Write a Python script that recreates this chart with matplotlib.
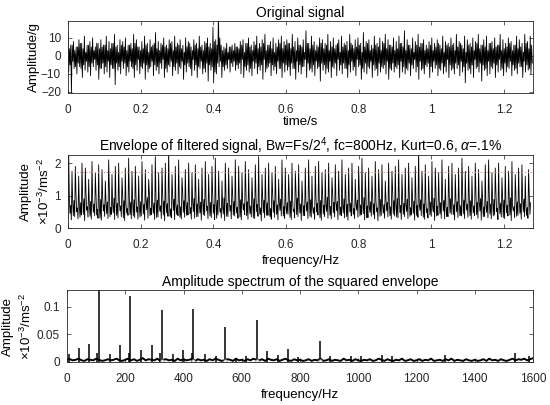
import numpy as np
import matplotlib
matplotlib.use('Agg')
import matplotlib.pyplot as plt

plt.rcParams['font.family'] = ['Liberation Sans', 'DejaVu Sans']
plt.rcParams['font.size'] = 9.5
plt.rcParams['mathtext.fontset'] = 'custom'
plt.rcParams['mathtext.rm'] = 'Liberation Sans'
plt.rcParams['mathtext.it'] = 'Liberation Sans:italic'

# original signal: large and small excursions (g)
sig_hi = [13, 6, 8, 5, 9, 7, 11, 6, 8, 10, 5, 7, 9, 6, 11, 8, 7, 12, 6, 9,
          8, 10, 6, 7, 12, 9, 5, 8, 11, 7, 9, 6, 13, 8, 7, 10, 6, 9, 8, 11,
          7, 9, 6, 10, 8, 5, 9, 7, 11, 6, 8, 10, 7, 16, 9, 24, 6, 5, 7, 5,
          6, 7, 5, 8, 9, 7, 10, 6, 8, 11, 7, 9, 12, 6, 8, 10, 7, 9, 11, 8,
          9, 7, 12, 8, 10, 6, 9, 14, 7, 11, 8, 6, 10, 9, 7, 12, 8, 10, 6, 9,
          11, 7, 8, 12, 6, 9, 10, 7, 13, 8, 9, 6, 11, 7, 10, 8, 12, 9, 6, 10,
          8, 11, 7, 14, 9, 6, 10, 8, 12, 7, 9, 6, 8, 10, 7, 9, 6, 11, 8, 7,
          10, 7, 12, 8, 6, 11, 9, 7, 10, 8, 12, 6, 9, 11, 7, 8, 10, 6, 12, 9,
          7, 10, 8, 6, 11, 9, 7, 12, 8, 11]
sig_lo = [-9, -21, -7, -10, -6, -12, -8, -9, -11, -6, -8, -13, -7, -10, -9, -12, -7, -16, -8, -10,
          -7, -11, -9, -6, -12, -8, -10, -7, -13, -9, -6, -11, -8, -10, -7, -12, -9, -6, -11, -8,
          -10, -7, -13, -9, -6, -11, -8, -12, -7, -10, -9, -14, -8, -15, -10, -6, -12, -8, -7, -9,
          -6, -8, -7, -10, -12, -8, -9, -11, -7, -10, -8, -13, -9, -6, -11, -8, -10, -7, -12, -9,
          -8, -11, -7, -13, -9, -10, -6, -12, -8, -9, -11, -7, -14, -8, -10, -9, -12, -7, -11, -8,
          -10, -7, -12, -9, -8, -11, -6, -13, -9, -10, -7, -12, -8, -11, -9, -7, -10, -13, -8, -9,
          -7, -12, -9, -10, -8, -11, -7, -9, -13, -8, -10, -6, -12, -9, -7, -11, -8, -10, -9, -12,
          -8, -10, -7, -11, -9, -15, -8, -10, -12, -7, -9, -14, -8, -11, -10, -7, -12, -9, -8, -11,
          -9, -7, -11, -8, -10, -6, -12, -9, -8, -10]
sig_hi2 = [4, 6, 3, 5, 7, 4, 2, 6, 5, 3, 7, 4, 5, 6, 3, 4, 7, 5, 2, 6,
           5, 3, 6, 4, 7, 5, 3, 4, 6, 2, 5, 7, 4, 3, 6, 5, 4, 7, 3, 5,
           6, 4, 2, 5, 7, 3, 6, 4, 5, 3, 7, 5, 4, 8, 6, 10, 3, 4, 2, 5,
           3, 5, 4, 6, 2, 7, 5, 3, 6, 4, 5, 7, 3, 6, 4, 2, 5, 7, 4, 6,
           7, 4, 5, 3, 6, 5, 2, 7, 4, 6, 3, 5, 7, 4, 6, 3, 5, 4, 7, 2,
           5, 6, 3, 7, 4, 5, 6, 2, 5, 7, 3, 4, 6, 5, 3, 7, 4, 6, 5, 3,
           4, 7, 5, 3, 6, 4, 2, 6, 5, 7, 3, 4, 6, 3, 5, 7, 4, 2, 6, 5,
           6, 3, 5, 7, 4, 2, 6, 5, 3, 7, 4, 6, 5, 3, 7, 4, 5, 6, 3, 4,
           5, 7, 3, 6, 4, 5, 2, 7, 4, 6]
sig_lo2 = [-5, -3, -6, -4, -7, -5, -3, -6, -4, -2, -5, -7, -4, -6, -3, -5, -7, -4, -6, -3,
           -4, -6, -3, -7, -5, -2, -6, -4, -5, -7, -3, -5, -6, -4, -2, -7, -5, -3, -6, -4,
           -6, -3, -5, -4, -7, -2, -5, -6, -3, -7, -4, -5, -6, -9, -4, -3, -6, -5, -2, -4,
           -3, -5, -4, -2, -6, -5, -7, -3, -4, -6, -5, -2, -7, -4, -5, -6, -3, -7, -4, -5,
           -6, -4, -7, -3, -5, -6, -2, -4, -7, -5, -3, -6, -4, -5, -7, -3, -6, -4, -2, -5,
           -4, -7, -5, -3, -6, -2, -5, -7, -4, -6, -3, -5, -7, -4, -6, -5, -3, -7, -4, -6,
           -5, -3, -6, -7, -4, -5, -2, -6, -3, -7, -5, -4, -6, -3, -5, -7, -4, -6, -2, -5,
           -7, -4, -5, -3, -6, -4, -7, -5, -2, -6, -4, -5, -7, -3, -6, -4, -5, -2, -7, -4,
           -6, -3, -5, -7, -4, -6, -3, -5, -7, -4]

# envelope: one impulse per fault period, five samples each (x0.01)
env_peak = [240, 175, 190, 160, 200, 185, 150, 205, 170, 195, 180, 145, 210, 165, 190, 200, 155, 185, 215, 175,
            190, 160, 205, 180, 150, 195, 220, 170, 185, 200, 245, 165, 190, 210, 155, 180, 200, 170, 195, 150,
            185, 205, 165, 190, 215, 175, 145, 200, 185, 160, 210, 190, 170, 205, 180, 155, 195, 220, 165, 185,
            200, 170, 190, 150, 210, 185, 165, 200, 175, 195, 145, 185, 210, 160, 190, 205, 170, 180, 200, 155,
            195, 175, 210, 165, 185, 200, 150, 190, 215, 170, 185, 160, 205, 180, 195, 145, 200, 175, 190, 210,
            165, 185, 200, 155, 190, 245, 175, 195, 160, 205, 185, 170, 210, 150, 190, 200, 165, 185, 215, 175,
            190, 160, 200, 180, 145, 195, 210, 170, 185, 200, 155, 190, 175, 205, 165, 185, 195, 160, 180]
env_low = [30, 25, 35, 28, 40, 22, 33, 27, 38, 30, 24, 36, 29, 42, 26, 31, 35, 23, 39, 28,
           32, 27, 37, 24, 30, 41, 26, 34, 29, 22, 36, 31, 25, 38, 28, 33, 40, 27, 30, 35,
           24, 38, 29, 32, 26, 40, 31, 23, 35, 28, 37, 30, 25, 41, 27, 34, 29, 36, 22, 32,
           39, 27, 33, 25, 37, 30, 42, 26, 31, 35, 23, 38, 29, 33, 27, 40, 24, 36, 30, 28,
           34, 26, 38, 31, 24, 37, 29, 33, 41, 25, 32, 36, 28, 22, 39, 30, 34, 27, 37, 31,
           26, 35, 29, 40, 24, 33, 38, 27, 31, 36, 23, 39, 30, 28, 35, 42, 25, 32, 37, 29,
           33, 27, 38, 30, 24, 36, 31, 28, 40, 26, 34, 29, 37, 23, 32, 39, 27, 35, 30]
env_mid = [95, 80, 105, 70, 90, 110, 75, 85, 100, 65, 95, 80, 115, 70, 90, 85, 105, 75, 95, 80,
           100, 70, 90, 85, 110, 75, 95, 65, 105, 80, 90, 100, 70, 85, 115, 75, 95, 80, 105, 70,
           85, 95, 75, 110, 80, 90, 65, 100, 85, 105, 70, 95, 80, 110, 75, 90, 100, 65, 95, 85,
           75, 105, 90, 80, 100, 70, 95, 85, 115, 75, 90, 80, 105, 65, 95, 85, 100, 70, 90, 110,
           80, 95, 70, 105, 85, 90, 75, 110, 80, 100, 65, 95, 85, 105, 70, 90, 80, 115, 75, 95,
           90, 70, 100, 85, 95, 75, 110, 80, 90, 65, 105, 85, 95, 70, 100, 80, 90, 75, 110, 85,
           95, 75, 105, 80, 90, 70, 100, 85, 110, 75, 95, 80, 90, 65, 105, 85, 95, 70, 100]
env_low2 = [45, 38, 50, 33, 42, 55, 36, 48, 40, 30, 52, 44, 35, 47, 39, 53, 31, 46, 41, 37,
            49, 34, 43, 56, 38, 45, 32, 51, 40, 47, 36, 54, 42, 33, 48, 39, 44, 50, 35, 46,
            41, 53, 37, 45, 30, 49, 43, 36, 52, 40, 46, 34, 55, 38, 44, 31, 50, 42, 47, 39,
            35, 48, 42, 54, 37, 44, 33, 50, 41, 46, 38, 52, 36, 45, 49, 32, 43, 51, 39, 47,
            53, 40, 46, 35, 49, 42, 55, 37, 44, 31, 48, 41, 50, 36, 45, 53, 38, 43, 34, 47,
            42, 51, 36, 45, 39, 54, 33, 47, 40, 49, 37, 44, 52, 35, 46, 41, 50, 38, 43, 55,
            38, 46, 41, 52, 35, 48, 43, 37, 50, 44, 32, 47, 40, 53, 36, 45, 49, 39, 42]
env_mid2 = [70, 85, 62, 78, 90, 66, 82, 74, 58, 88, 72, 80, 64, 92, 76, 68, 84, 60, 79, 87,
            65, 81, 73, 94, 61, 77, 86, 69, 83, 75, 59, 89, 71, 66, 84, 78, 63, 91, 74, 80,
            88, 67, 79, 72, 85, 60, 93, 76, 70, 82, 64, 87, 75, 81, 68, 90, 73, 62, 86, 77,
            61, 84, 71, 89, 66, 78, 83, 58, 92, 74, 69, 80, 87, 63, 76, 85, 70, 95, 67, 79,
            82, 65, 90, 73, 77, 60, 86, 71, 94, 68, 81, 75, 62, 88, 72, 79, 66, 84, 91, 70,
            76, 89, 63, 83, 70, 87, 74, 59, 80, 92, 67, 78, 85, 64, 90, 72, 81, 69, 86, 73,
            84, 68, 79, 91, 65, 82, 74, 88, 61, 77, 86, 70, 93, 66, 80, 75, 89, 63, 78]
env_threshold = 1.72
fault_freq = 109.0

# squared envelope spectrum: noise floor every 10 Hz (x0.001) and spectral lines
floor_step = 10
spec_floor = [5, 5, 3, 4, 6, 3, 2, 5, 4, 3, 6, 4, 2, 3, 5, 3, 4, 6, 3, 2,
              4, 6, 3, 5, 2, 4, 7, 3, 5, 4, 3, 6, 2, 4, 5, 3, 4, 2, 6, 3,
              5, 3, 4, 6, 2, 5, 3, 4, 2, 5, 3, 6, 4, 2, 3, 5, 4, 2, 6, 3,
              4, 2, 5, 3, 6, 4, 3, 5, 2, 6, 4, 3, 5, 2, 4, 6, 3, 2, 5, 3,
              4, 2, 3, 5, 2, 4, 3, 6, 2, 3, 5, 2, 4, 3, 2, 6, 3, 4, 2, 5,
              3, 2, 4, 3, 5, 2, 3, 6, 4, 2, 5, 3, 2, 4, 3, 6, 2, 3, 5, 2,
              3, 5, 2, 4, 3, 6, 2, 3, 4, 2, 5, 3, 6, 2, 4, 3, 2, 5, 3, 2,
              4, 2, 3, 5, 2, 6, 3, 4, 2, 5, 3, 2, 4, 6, 3, 5, 4, 6, 3, 5, 7]
line_f = [8.5, 40, 77, 103, 108.5, 146, 183, 212, 217, 255, 291, 320, 325.5, 363, 399, 429, 434,
          473, 511, 542.5, 580, 616, 651, 686, 724, 759.5, 792, 868, 903, 975, 1009,
          1081, 1117, 1297, 1539, 1585]
line_a = [0.015, 0.025, 0.033, 0.017, 0.14, 0.015, 0.030, 0.017, 0.12, 0.021, 0.030, 0.016, 0.094,
          0.014, 0.022, 0.016, 0.096, 0.015, 0.010, 0.064, 0.008, 0.011, 0.076, 0.019, 0.013,
          0.023, 0.009, 0.038, 0.010, 0.010, 0.010, 0.012, 0.010, 0.012, 0.016, 0.010]
harm_f = [325.5, 434, 542.5, 651, 868]

time_ticks = [0, 0.2, 0.4, 0.6, 0.8, 1.0, 1.2]
time_labels = ['0', '0.2', '0.4', '0.6', '0.8', '1', '1.2']
freq_ticks = [0, 200, 400, 600, 800, 1000, 1200, 1400, 1600]


def style(ax):
    ax.tick_params(direction='in', top=True, right=True, length=3, width=0.5,
                   colors='#262626', labelsize=8.5)
    ax.tick_params(axis='x', pad=8)
    ax.tick_params(axis='y', pad=5)
    for s in ax.spines.values():
        s.set_linewidth(0.6)
        s.set_color('#262626')


fig = plt.figure(figsize=(5.5, 4.05), dpi=100)
amp_label = 'Amplitude\n' + r'$\times$10$^{-3}$/ms$^{-2}$'

# original signal
ax1 = fig.add_axes([68/550, 1-93/405, 465/550, 72/405])
sig = np.array([sig_hi, sig_lo, sig_hi2, sig_lo2]).T.ravel()
t = np.arange(len(sig)) * 1.28 / len(sig)
ax1.plot(t, sig, color='k', lw=0.6)
ax1.set_xlim(0, 1.28)
ax1.set_ylim(-20.6, 19.4)
ax1.set_xticks(time_ticks, time_labels)
ax1.set_yticks([-20, -10, 0, 10])
ax1.set_title('Original signal', fontsize=10, pad=3)
ax1.set_xlabel('time/s', labelpad=0)
ax1.set_ylabel('Amplitude/g', labelpad=1)
style(ax1)

# envelope
ax2 = fig.add_axes([68/550, 1-228/405, 465/550, 73/405])
env = np.array([env_low, env_peak, env_mid, env_low2, env_mid2]).T.ravel() / 100.0
te = np.arange(len(env)) / (5 * fault_freq)
ax2.plot(te, env, color='k', lw=0.6)
ax2.axhline(env_threshold, color='#d98080', ls=':', lw=0.8)
ax2.set_xlim(0, 1.28)
ax2.set_ylim(0, 2.25)
ax2.set_xticks(time_ticks, time_labels)
ax2.set_yticks([0, 1, 2])
ax2.set_title(r'Envelope of filtered signal, Bw=Fs/2$^4$, fc=800Hz, Kurt=0.6, $\alpha$=.1%',
              fontsize=10, pad=3)
ax2.set_xlabel('frequency/Hz', labelpad=3)
ax2.set_ylabel(amp_label, labelpad=2, linespacing=1.4)
style(ax2)

# spectrum of squared envelope
ax3 = fig.add_axes([67/550, 1-362/405, 466/550, 72/405])
ff = np.arange(len(spec_floor)) * floor_step
ax3.plot(ff, np.array(spec_floor) / 1000.0, color='k', lw=1.4)
ax3.vlines(line_f, 0, line_a, color='k', lw=1.1)
ax3.plot(harm_f, [0.002] * len(harm_f), 'o', ms=2.5, mfc='white', mec='#999999', mew=0.6)
ax3.set_xlim(0, 1600)
ax3.set_ylim(0, 0.13)
ax3.set_xticks(freq_ticks)
ax3.set_yticks([0, 0.05, 0.1], ['0', '0.05', '0.1'])
ax3.set_title('Amplitude spectrum of the squared envelope', fontsize=10, pad=3)
ax3.set_xlabel('frequency/Hz', labelpad=3)
ax3.set_ylabel(amp_label, labelpad=2, linespacing=1.4)
style(ax3)

fig.savefig('out.png', dpi=100)
